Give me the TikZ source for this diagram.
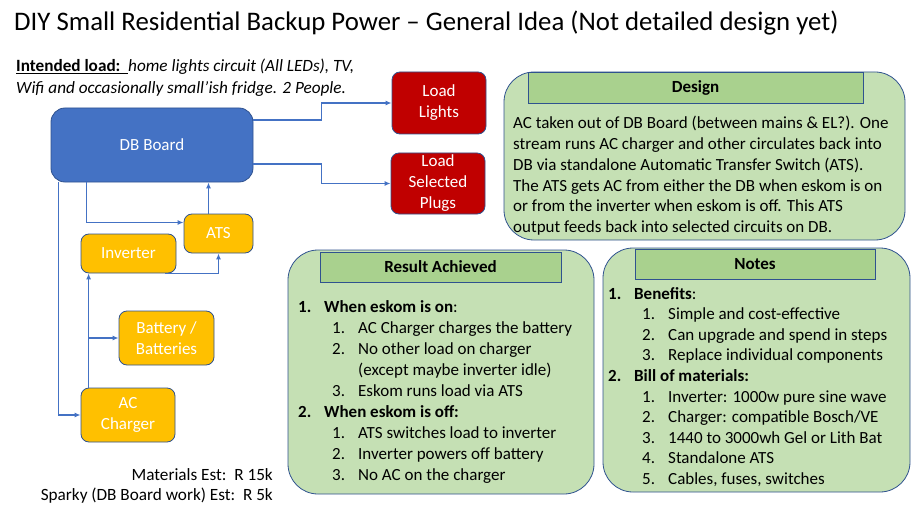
\documentclass[tikz,border=0pt]{standalone}
\usepackage{fontspec}
\setmainfont{Carlito}
\usetikzlibrary{arrows.meta,calc}

\definecolor{dbblue}{HTML}{4472C4}
\definecolor{edgeblue}{HTML}{2F528F}
\definecolor{loadred}{HTML}{C00000}
\definecolor{partyellow}{HTML}{FFC000}
\definecolor{notegreen}{HTML}{C5E0B4}
\definecolor{headgreen}{HTML}{A9D18E}

% list lines: top level and sub level
\newcommand{\listtop}[2]{\makebox[26pt][l]{\textbf{#1}}#2}
\newcommand{\listsub}[2]{\hspace*{34pt}\makebox[26pt][l]{#1}#2}
\newcommand{\listcont}[1]{\hspace*{60pt}#1}

\begin{document}
\begin{tikzpicture}[x=1pt, y=-1pt,
    part/.style={draw=edgeblue, line width=0.8pt, rounded corners=8pt, text=white,
        align=center, inner sep=0pt, font=\fontsize{17}{21}\selectfont},
    board/.style={part, fill=dbblue, rounded corners=14pt},
    load/.style={part, fill=loadred},
    unit/.style={part, fill=partyellow},
    panel/.style={draw=edgeblue, line width=0.8pt, fill=notegreen, rounded corners=30pt,
        inner sep=0pt},
    heading/.style={draw=edgeblue, line width=0.8pt, fill=headgreen, inner sep=0pt,
        font=\fontsize{17}{20}\selectfont\bfseries},
    body/.style={anchor=north west, align=left, inner sep=0pt,
        font=\fontsize{17}{20.8}\selectfont},
    wire/.style={draw=dbblue, line width=1.5pt, -{Latex[length=6pt,width=5pt]}}
]
    \useasboundingbox (0,0) rectangle (913,508);

    % title and notes on the left
    \node[anchor=west, inner sep=0pt, font=\fontsize{26.8}{30}\selectfont] (title) at (14,23)
        {DIY Small Residential Backup Power -- General Idea (Not detailed design yet)};
    \node[body, font=\fontsize{17.2}{22}\selectfont] (intent) at (16,59)
        {\underline{\textbf{Intended load:}\ \ }\textit{home lights circuit (All LEDs), TV,}\\
         \textit{Wifi and occasionally small’ish fridge. 2 People.}};
    \node[anchor=north east, align=right, inner sep=0pt, font=\fontsize{17.2}{20}\selectfont] (cost) at (273,468)
        {Materials Est:\ \ R 15k\\ Sparky (DB Board work) Est:\ \ R 5k};

    % parts
    \node[board, minimum width=202pt, minimum height=74pt] (db) at (152,145) {DB Board};
    \node[load, minimum width=94pt, minimum height=62pt] (lights) at (439,103) {Load\\ Lights};
    \node[load, minimum width=94pt, minimum height=61pt] (plugs) at (438,183.5) {Load\\ Selected\\ Plugs};
    \node[unit, minimum width=69pt, minimum height=39pt] (ats) at (218.5,233.5) {ATS};
    \node[unit, minimum width=95pt, minimum height=39pt] (inverter) at (128.5,253.5) {Inverter};
    \node[unit, minimum width=95pt, minimum height=54pt] (battery) at (166.5,338) {Battery /\\ Batteries};
    \node[unit, minimum width=94pt, minimum height=54pt] (charger) at (128,415) {AC\\ Charger};

    % connectors
    \draw[wire] ($(db.east)+(0,-25)$) -| ($(lights.west)+(-70,0)$) -- (lights.west);
    \draw[wire] ($(db.east)+(0,19)$) -| ($(plugs.west)+(-69,0)$) -- (plugs.west);
    \draw[wire] ($(db.south west)+(8,0)$) |- (charger.west);
    \draw[wire] ($(db.south west)+(36,0)$) |- ($(ats.west)+(0,-11)$);
    \coordinate (atsup) at ($(ats.north)+(-10,0)$);
    \draw[wire] (atsup) -- (atsup |- db.south);
    \draw[wire] ($(inverter.south)+(36.5,0)$) -| (ats.south);
    \coordinate (chup) at ($(charger.north west)+(8,0)$);
    \draw[wire] (chup) -- (chup |- inverter.south);
    \draw[wire] (chup |- battery.west) -- (battery.west);

    % design panel
    \node[panel, minimum width=401pt, minimum height=168pt] (design) at (704.5,156) {};
    \node[heading, minimum width=335pt, minimum height=31pt] (designhead) at (695.5,87.5) {Design};
    \node[body] (designtext) at (513,116)
        {AC taken out of DB Board (between mains \& EL?). One\\
         stream runs AC charger and other circulates back into\\
         DB via standalone Automatic Transfer Switch (ATS).\\
         The ATS gets AC from either the DB when eskom is on\\
         or from the inverter when eskom is off. This ATS\\
         output feeds back into selected circuits on DB.};

    % result panel
    \node[panel, minimum width=306pt, minimum height=244pt] (result) at (441,372) {};
    \node[heading, minimum width=241pt, minimum height=30pt] (resulthead) at (440.5,267) {Result Achieved};
    \node[body, font=\fontsize{17}{21}\selectfont] (resulttext) at (298,300)
        {\listtop{1.}{\textbf{When eskom is on}:}\\
         \listsub{1.}{AC Charger charges the battery}\\
         \listsub{2.}{No other load on charger}\\
         \listcont{(except maybe inverter idle)}\\
         \listsub{3.}{Eskom runs load via ATS}\\
         \listtop{2.}{\textbf{When eskom is off:}}\\
         \listsub{1.}{ATS switches load to inverter}\\
         \listsub{2.}{Inverter powers off battery}\\
         \listsub{3.}{No AC on the charger}};

    % notes panel
    \node[panel, minimum width=307pt, minimum height=244pt] (notes) at (756.5,370) {};
    \node[heading, minimum width=240pt, minimum height=30pt] (noteshead) at (755,264) {Notes};
    \node[body, font=\fontsize{17}{20.6}\selectfont] (notestext) at (608,287)
        {\listtop{1.}{\textbf{Benefits}:}\\
         \listsub{1.}{Simple and cost-effective}\\
         \listsub{2.}{Can upgrade and spend in steps}\\
         \listsub{3.}{Replace individual components}\\
         \listtop{2.}{\textbf{Bill of materials:}}\\
         \listsub{1.}{Inverter: 1000w pure sine wave}\\
         \listsub{2.}{Charger: compatible Bosch/VE}\\
         \listsub{3.}{1440 to 3000wh Gel or Lith Bat}\\
         \listsub{4.}{Standalone ATS}\\
         \listsub{5.}{Cables, fuses, switches}};
\end{tikzpicture}
\end{document}
